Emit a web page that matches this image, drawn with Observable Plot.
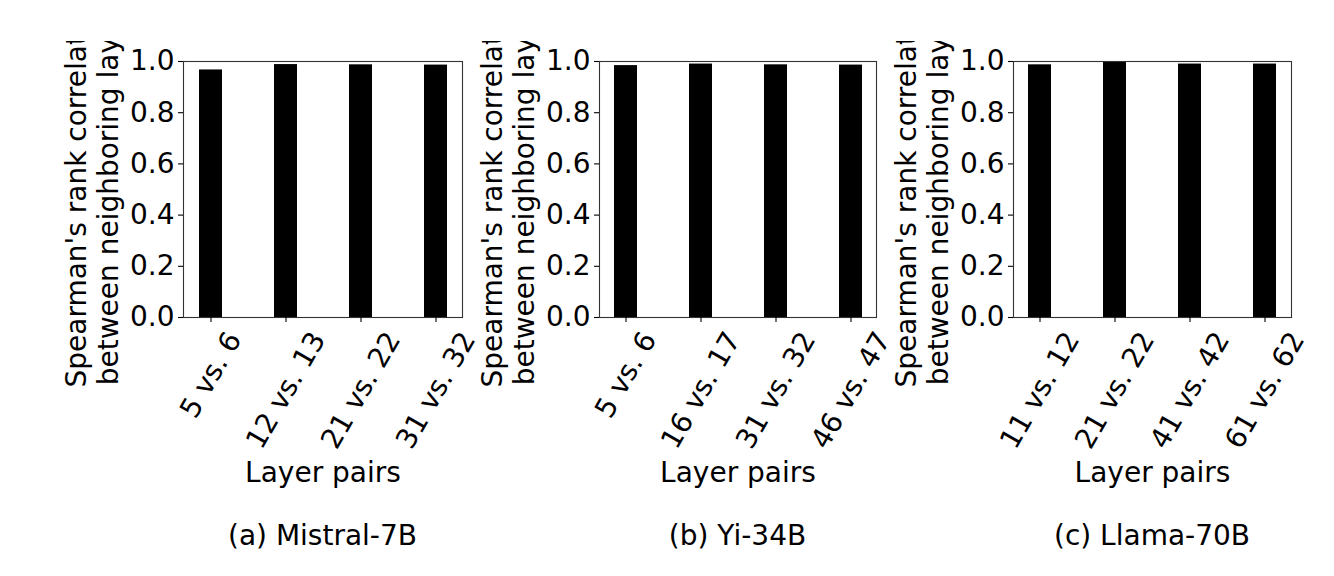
<!DOCTYPE html>
<html><head><meta charset="utf-8">
<script src="https://cdn.jsdelivr.net/npm/d3@7"></script>
<script src="https://cdn.jsdelivr.net/npm/@observablehq/plot@0.6"></script>
<style>
html,body{margin:0;padding:0;background:#fff;}
#fig{position:relative;width:1334px;height:576px;overflow:hidden;font-family:"DejaVu Sans";background:#fff;}
.panel{position:absolute;top:41px;}
.cap{position:absolute;top:522px;font-size:28px;line-height:28px;text-align:center;color:#000;white-space:nowrap;font-family:"DejaVu Sans";}
</style></head><body><div id="fig"></div>
<script>
// ---- data ----
const mistralPairs = ["5 vs. 6", "12 vs. 13", "21 vs. 22", "31 vs. 32"];
const mistralValues = [0.967, 0.988, 0.987, 0.986];
const yiPairs = ["5 vs. 6", "16 vs. 17", "31 vs. 32", "46 vs. 47"];
const yiValues = [0.984, 0.990, 0.987, 0.986];
const llamaPairs = ["11 vs. 12", "21 vs. 22", "41 vs. 42", "61 vs. 62"];
const llamaValues = [0.987, 0.997, 0.990, 0.990];
const captions = ["(a) Mistral-7B", "(b) Yi-34B", "(c) Llama-70B"];
const yTicks = [0.0, 0.2, 0.4, 0.6, 0.8, 1.0];
const yLabel = "Spearman's rank correlation\nbetween neighboring layers";
const xLabel = "Layer pairs";

// ---- layout ----
const FS = 28;
const panels = [
  {pairs: mistralPairs, values: mistralValues, left: 0, w: 279},
  {pairs: yiPairs, values: yiValues, left: 416, w: 277},
  {pairs: llamaPairs, values: llamaValues, left: 830, w: 278}
];
const ML = 183, MR = 30, MT = 20, H = 460, FH = 256;

const ctx = document.createElement("canvas").getContext("2d");
ctx.font = `${FS}px 'DejaVu Sans'`;
const th = 60 * Math.PI / 180;

function makePanel(pairs, values, fw) {
  const data = pairs.map((p, i) => ({pair: p, value: values[i]}));
  const labelMarks = pairs.map(p => {
    const w = ctx.measureText(p).width;
    const bh = w * Math.sin(th) + FS * Math.cos(th);
    return Plot.text([p], {x: d => d, text: d => d, frameAnchor: "bottom", rotate: -60,
      textAnchor: "middle", lineAnchor: "middle", dy: 10 + bh / 2, fontSize: FS});
  });
  return Plot.plot({
    width: ML + fw + MR, height: H,
    marginLeft: ML, marginRight: MR, marginTop: MT, marginBottom: H - MT - FH,
    style: {overflow: "hidden", background: "transparent", fontFamily: "DejaVu Sans", fontSize: FS + "px", color: "#000"},
    x: {type: "band", domain: pairs, paddingInner: 0.7, paddingOuter: 0.19},
    y: {domain: [0, 1]},
    marks: [
      Plot.barY(data, {x: "pair", y: "value", fill: "black"}),
      Plot.frame({stroke: "#333", strokeWidth: 1.1}),
      Plot.axisY({ticks: yTicks, tickFormat: d3.format(".1f"), tickSize: 5, tickPadding: 4, fontSize: FS, label: null, strokeWidth: 1.1}),
      Plot.axisX({tickSize: 5, tickFormat: () => "", label: null, strokeWidth: 1.1}),
      ...labelMarks,
      Plot.text([yLabel], {text: d => d, frameAnchor: "left", rotate: -90, dx: -66, lineAnchor: "bottom",
        lineHeight: 1.14, fontSize: FS, textAnchor: "middle"}),
      Plot.text([xLabel], {text: d => d, frameAnchor: "bottom", dy: 164, lineAnchor: "bottom", fontSize: FS})
    ]
  });
}

const fig = document.getElementById("fig");
panels.forEach((p, i) => {
  const svg = makePanel(p.pairs, p.values, p.w);
  svg.classList.add("panel");
  svg.style.left = p.left + "px";
  svg.style.maxWidth = "none";
  fig.appendChild(svg);
  const cap = document.createElement("div");
  cap.className = "cap";
  cap.style.left = (p.left + ML) + "px";
  cap.style.width = p.w + "px";
  cap.textContent = captions[i];
  fig.appendChild(cap);
});
</script></body></html>
